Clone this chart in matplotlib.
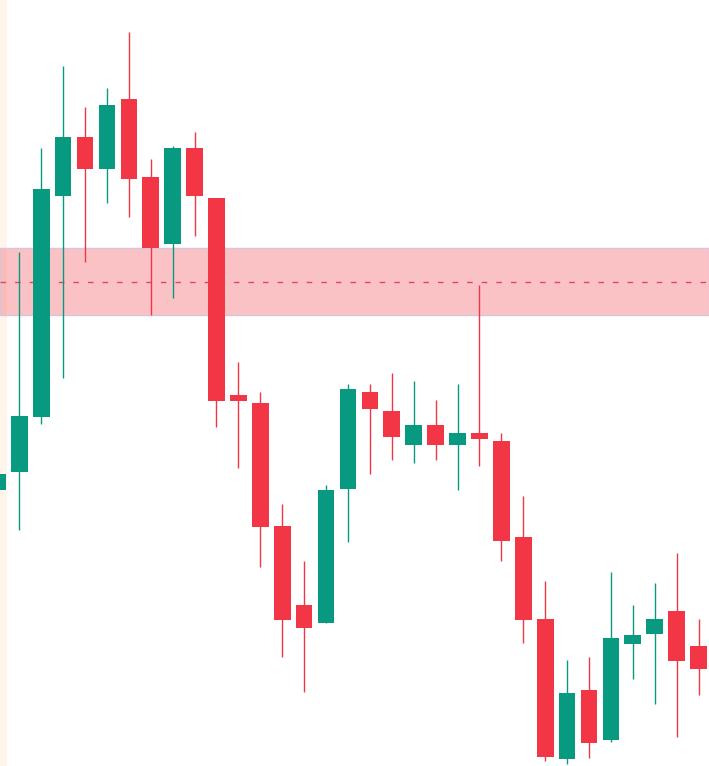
import matplotlib
matplotlib.use("Agg")
import matplotlib.pyplot as plt
import numpy as np

# OHLC values (price units)
opens  = [276, 294, 349, 570, 629, 597, 667, 589, 522, 618, 568, 371, 363, 240, 161, 143, 277,
          374, 355, 321, 341, 321, 333, 325, 229, 147, 7, 76, 26, 122, 132, 155, 120]
highs  = [296, 514, 618, 700, 659, 678, 734, 607, 620, 634, 568, 404, 374, 262, 205, 281, 382,
          382, 393, 385, 366, 382, 481, 333, 270, 185, 106, 109, 194, 161, 183, 213, 147]
lows   = [266, 236, 342, 388, 504, 563, 549, 451, 468, 530, 339, 298, 199, 109, 74, 143, 224,
          292, 306, 303, 306, 276, 300, 205, 123, 5, 2, 8, 24, 87, 62, 29, 71]
closes = [292, 350, 577, 629, 597, 661, 587, 518, 618, 570, 365, 365, 239, 146, 138, 276, 377,
          357, 329, 341, 321, 333, 327, 225, 146, 9, 73, 23, 128, 131, 147, 105, 97]

zone_low, zone_high = 451, 518
zone_mid = 484.3

GREEN = "#089981"
RED = "#f23645"

fig = plt.figure(figsize=(7.09, 7.66), dpi=100)
ax = fig.add_axes([0, 0, 1, 1])
ax.set_facecolor("white")

x = np.arange(len(opens))
o = np.array(opens, float); c = np.array(closes, float)
h = np.array(highs, float); l = np.array(lows, float)
up = c >= o
cols = np.where(up, GREEN, RED)

# left cream strip
ax.axvspan(0.119, 0.44, color="#fff5eb", zorder=0, lw=0)

# zone
ax.axhspan(zone_low, zone_high, facecolor=(242/255, 54/255, 69/255, 0.30),
           edgecolor="#d6c6dc", lw=1.0, zorder=1)
ax.axhline(zone_mid, color="#d9486a", lw=1.0, dashes=(4, 6.5), zorder=1.5)

ax.vlines(x, l, h, colors=cols, lw=1.0, zorder=2)
bottoms = np.minimum(o, c)
heights = np.maximum(np.abs(c - o), 1.5)
ax.bar(x, heights, bottom=bottoms, width=0.762, color=cols, lw=0, zorder=3)

ax.set_xlim(0.119, 32.478)
ax.set_ylim(0, 766)
ax.axis("off")

fig.savefig("out.png", dpi=100, facecolor="white")
